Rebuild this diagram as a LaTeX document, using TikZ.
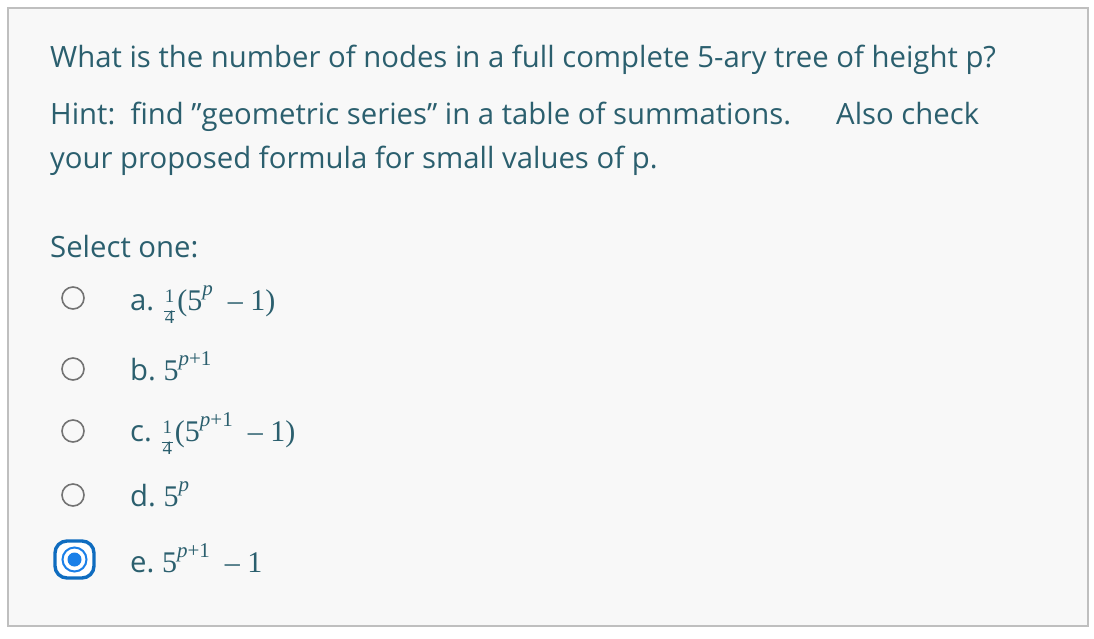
\documentclass[tikz,border=0pt]{standalone}
\usepackage{fontspec}
\defaultfontfeatures{}
\setmainfont{Open Sans}
\newfontfamily\tms{Liberation Serif}
\definecolor{txt}{HTML}{2B5F6E}
\definecolor{bl}{HTML}{0F6CBF}
\definecolor{bd}{HTML}{1A7FE8}
\newcommand{\sps}[1]{\raisebox{0.5em}{\fontsize{21}{21}\selectfont #1}}
\newcommand{\qrt}{\hspace{2pt}\raisebox{-0.12em}{\fontsize{19}{19}\selectfont$\vcenter{\hbox{\begin{tabular}{@{}c@{}}1\\[-0.5em]\rule{0.6em}{0.7pt}\\[-0.4em]4\end{tabular}}}$}\hspace{2pt}}
\begin{document}
\begin{tikzpicture}[x=1pt,y=-1pt,
  txtn/.style={anchor=base west,inner sep=0,text=txt,font=\fontsize{29.3}{32}\selectfont},
  radio/.style={circle,draw=black!55,line width=1.6pt,minimum size=22pt,inner sep=0}]
\useasboundingbox (0,0) rectangle (1094,638);
\draw[draw=black!25,fill={rgb,255:red,248;green,248;blue,248},line width=1.2pt] (8,8) rectangle (1088,626);
\node[txtn] (q) at (50,67) {What is the number of nodes in a full complete 5-ary tree of height p?};
\node[txtn] (h) at (50,124) {Hint:\ \ find "geometric series" in a table of summations.};
\node[txtn] (h2) at (836,124) {Also check};
\node[txtn] (h3) at (50,168) {your proposed formula for small values of p.};
\node[txtn] (s) at (50,257) {Select one:};
\node[radio] (ra) at (73,298) {};
\node[radio] (rb) at (73,369) {};
\node[radio] (rc) at (73,431) {};
\node[radio] (rd) at (73,495) {};
\draw[bl,line width=3.4pt,rounded corners=12pt,fill=white] (55,541) rectangle (94,578);
\node[circle,draw=bd,line width=2pt,minimum size=24pt,inner sep=0] (re) at (74.5,559.5) {};
\node[circle,fill=bd,minimum size=14pt,inner sep=0] at (re) {};
\node[txtn] (la) at (130,310) {a.\ \tms\fontsize{30}{30}\selectfont\qrt(5\sps{\itshape p}\ \ –\ 1)};
\node[txtn] (lb) at (130,380) {b.\ \tms\fontsize{30}{30}\selectfont 5\sps{\itshape p\upshape +1}};
\node[txtn] (lc) at (130,441) {c.\ \tms\fontsize{30}{30}\selectfont\qrt(5\sps{\itshape p\upshape +1}\ \ –\ 1)};
\node[txtn] (ld) at (130,506) {d.\ \tms\fontsize{30}{30}\selectfont 5\sps{\itshape p}};
\node[txtn] (le) at (130,572) {e.\ \tms\fontsize{30}{30}\selectfont 5\sps{\itshape p\upshape +1}\ \ –\ 1};
\end{tikzpicture}
\end{document}
